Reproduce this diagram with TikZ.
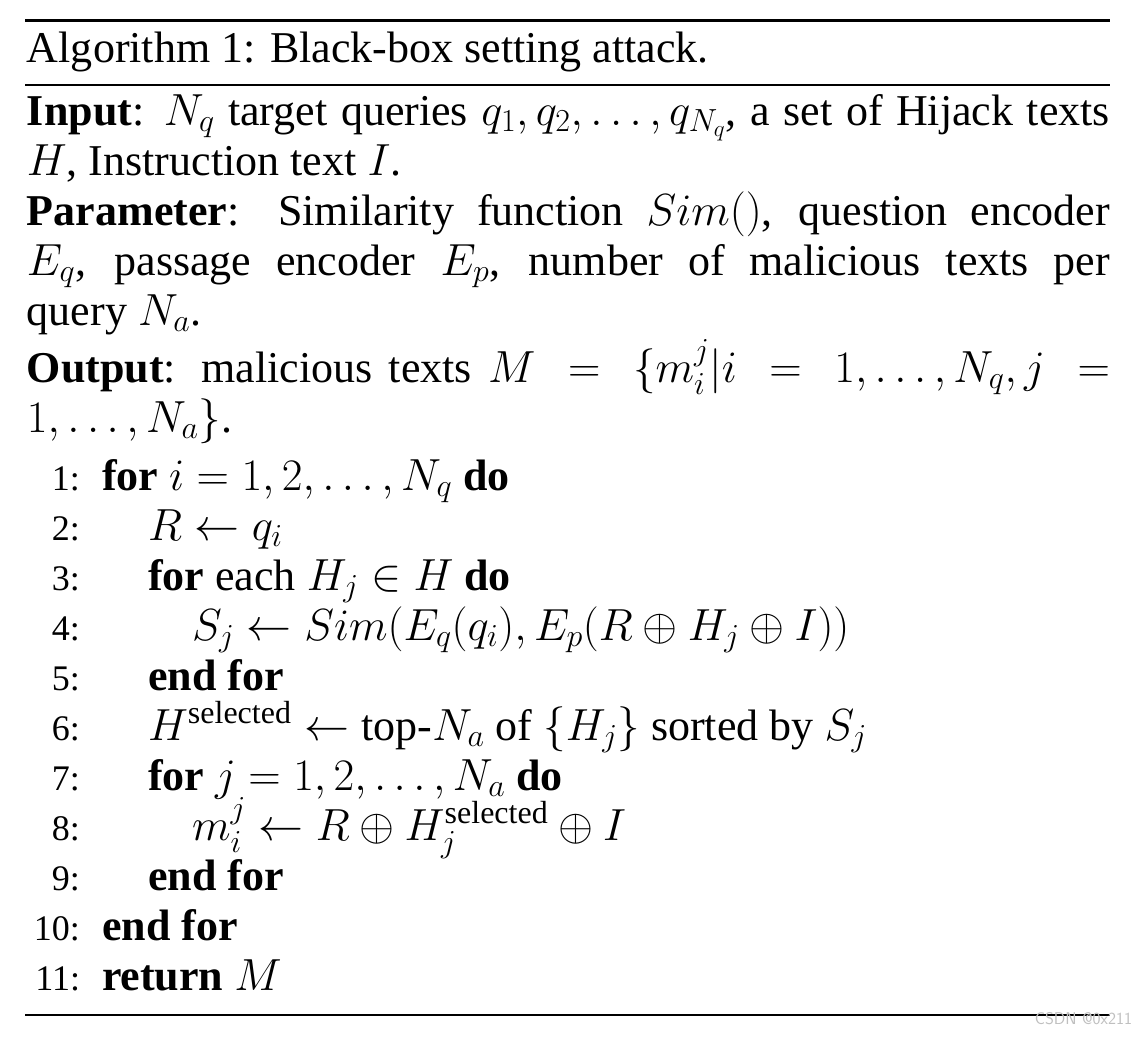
\RequirePackage{fix-cm}
\documentclass[tikz,border=0pt]{standalone}
\usepackage{amsmath,amssymb}
\usepackage{fontspec}
\setmainfont{Liberation Serif}
\DeclareMathSizes{44}{45}{32}{23}
\DeclareMathSizes{36}{36}{26}{19}
\begin{document}
\begin{tikzpicture}[x=1pt,y=-1pt,
  every node/.style={inner sep=0pt,outer sep=0pt,font=\fontsize{44}{50}\selectfont},
  txt/.style={anchor=base west},
  num/.style={anchor=base east,font=\fontsize{36}{40}\selectfont}]
\useasboundingbox[fill=white] (0,0) rectangle (1137,1036);
\draw[line width=3pt] (25,20) -- (1110,20);
\node[txt] (title) at (27,62) {Algorithm 1: Black-box setting attack.};
\draw[line width=1.3pt] (25,85) -- (1110,85);
\node[txt] (in1) at (27,125) {\makebox[1083pt][s]{\textbf{Input}: $N_q$ target queries $q_1,q_2,\ldots,q_{N_q}$, a set of Hijack texts}};
\node[txt] (in2) at (27,175) {$H$, Instruction text $I$.};
\node[txt] (pa1) at (27,225) {\makebox[1083pt][s]{\textbf{Parameter}: Similarity function $Sim()$, question encoder}};
\node[txt] (pa2) at (27,275) {\makebox[1083pt][s]{$E_q$, passage encoder $E_p$, number of malicious texts per}};
\node[txt] (pa3) at (27,325) {query $N_a$.};
\node[txt] (ou1) at (27,382) {\makebox[1083pt][s]{\textbf{Output}: malicious texts $M$ \ $=$ \ $\{m_i^j|i$ \ $=$ \ $1,\ldots,N_q,j$ \ $=$}};
\node[txt] (ou2) at (27,432) {$1,\ldots,N_a\}$.};
\foreach \n/\yy in {1/490,2/540,3/590,4/640,5/690,6/740,7/790,8/840,9/890,10/940,11/990}
  \node[num] (n\n) at (80,\yy) {\n:};
\node[txt] (l1) at (102,490) {\textbf{for} $i=1,2,\ldots,N_q$ \textbf{do}};
\node[txt] (l2) at (148,540) {$R\leftarrow q_i$};
\node[txt] (l3) at (148,590) {\textbf{for} each $H_j\in H$ \textbf{do}};
\node[txt] (l4) at (192,640) {$S_j\leftarrow Sim(E_q(q_i),E_p(R\oplus H_j\oplus I))$};
\node[txt] (l5) at (148,690) {\textbf{end for}};
\node[txt] (l6) at (148,740) {$H^{\text{selected}}\leftarrow\text{top-}N_a$ of $\{H_j\}$ sorted by $S_j$};
\node[txt] (l7) at (148,790) {\textbf{for} $j=1,2,\ldots,N_a$ \textbf{do}};
\node[txt] (l8) at (192,840) {$m_i^j\leftarrow R\oplus H_j^{\text{selected}}\oplus I$};
\node[txt] (l9) at (148,890) {\textbf{end for}};
\node[txt] (l10) at (102,940) {\textbf{end for}};
\node[txt] (l11) at (102,990) {\textbf{return} $M$};
\draw[line width=1.3pt] (25,1015) -- (1110,1015);
\node[anchor=base east,font=\fontsize{17}{20}\selectfont\sffamily,text=black!25] (wm) at (1132,1024) {CSDN @0x211};
\end{tikzpicture}
\end{document}
